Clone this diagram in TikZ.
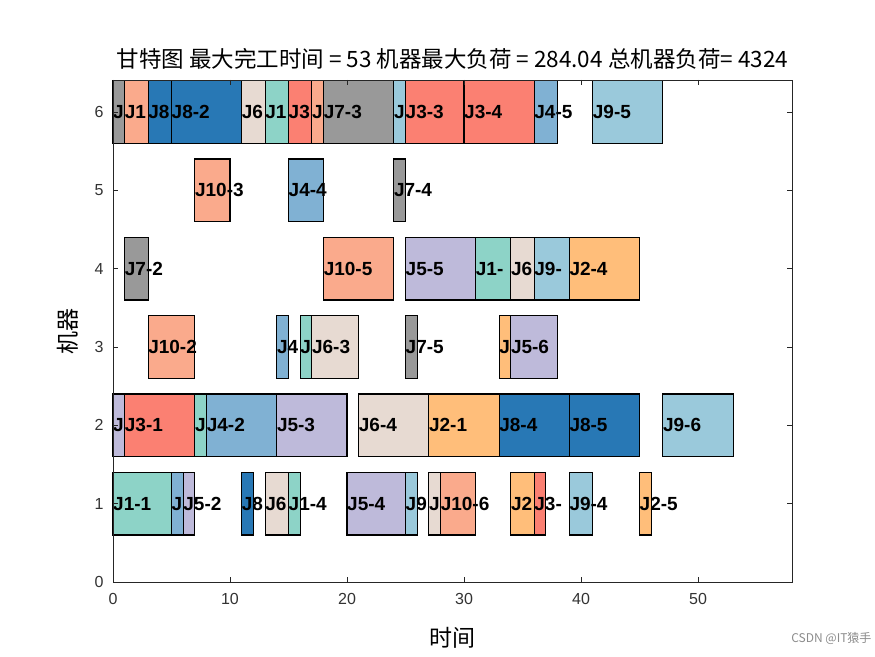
\documentclass[tikz,border=0pt]{standalone}
\usepackage{fontspec}
\setmainfont{Liberation Sans}
\newfontfamily\cjk{Noto Sans CJK SC}
\definecolor{cTe}{RGB}{141,211,199}
\definecolor{cSa}{RGB}{250,170,140}
\definecolor{cRe}{RGB}{251,128,114}
\definecolor{cDb}{RGB}{40,120,181}
\definecolor{cMb}{RGB}{128,177,211}
\definecolor{cLb}{RGB}{154,201,219}
\definecolor{cPu}{RGB}{190,186,218}
\definecolor{cBe}{RGB}{231,218,210}
\definecolor{cOr}{RGB}{255,190,122}
\definecolor{cGr}{RGB}{153,153,153}
\newcommand{\jbar}[5]{%
  \fill[#4] (#1,#3-0.4) rectangle (#2,#3+0.4);
  \draw[black,line width=1.1pt] (#1,#3-0.4) rectangle (#2,#3+0.4);
  \node[anchor=west,inner sep=0pt,font=\bfseries\fontsize{19}{21}\selectfont] at (#1,#3) {#5};}
\begin{document}
\begin{tikzpicture}[x=11.7pt,y=78.33pt]
\useasboundingbox (-113pt,-74pt) rectangle (762pt,582pt);
\fill[white] (-113pt,-74pt) rectangle (762pt,582pt);
% row 6
\jbar{0}{1}{6}{cGr}{J}
\jbar{1}{3}{6}{cSa}{J1}
\jbar{3}{5}{6}{cDb}{J8}
\jbar{5}{11}{6}{cDb}{J8-2}
\jbar{11}{13}{6}{cBe}{J6}
\jbar{13}{15}{6}{cTe}{J1}
\jbar{15}{17}{6}{cRe}{J3}
\jbar{17}{18}{6}{cSa}{J}
\jbar{18}{24}{6}{cGr}{J7-3}
\jbar{24}{25}{6}{cLb}{J}
\jbar{25}{30}{6}{cRe}{J3-3}
\jbar{30}{36}{6}{cRe}{J3-4}
\jbar{36}{38}{6}{cMb}{J4-5}
\jbar{41}{47}{6}{cLb}{J9-5}
% row 5
\jbar{7}{10}{5}{cSa}{J10-3}
\jbar{15}{18}{5}{cMb}{J4-4}
\jbar{24}{25}{5}{cGr}{J7-4}
% row 4
\jbar{1}{3}{4}{cGr}{J7-2}
\jbar{18}{24}{4}{cSa}{J10-5}
\jbar{25}{31}{4}{cPu}{J5-5}
\jbar{31}{34}{4}{cTe}{J1-}
\jbar{34}{36}{4}{cBe}{J6}
\jbar{36}{39}{4}{cLb}{J9-}
\jbar{39}{45}{4}{cOr}{J2-4}
% row 3
\jbar{3}{7}{3}{cSa}{J10-2}
\jbar{14}{15}{3}{cMb}{J4}
\jbar{16}{17}{3}{cTe}{J}
\jbar{17}{21}{3}{cBe}{J6-3}
\jbar{25}{26}{3}{cGr}{J7-5}
\jbar{33}{34}{3}{cOr}{J}
\jbar{34}{38}{3}{cPu}{J5-6}
% row 2
\jbar{0}{1}{2}{cPu}{J}
\jbar{1}{7}{2}{cRe}{J3-1}
\jbar{7}{8}{2}{cTe}{J}
\jbar{8}{14}{2}{cMb}{J4-2}
\jbar{14}{20}{2}{cPu}{J5-3}
\jbar{21}{27}{2}{cBe}{J6-4}
\jbar{27}{33}{2}{cOr}{J2-1}
\jbar{33}{39}{2}{cDb}{J8-4}
\jbar{39}{45}{2}{cDb}{J8-5}
\jbar{47}{53}{2}{cLb}{J9-6}
% row 1
\jbar{0}{5}{1}{cTe}{J1-1}
\jbar{5}{6}{1}{cMb}{J}
\jbar{6}{7}{1}{cPu}{J5-2}
\jbar{11}{12}{1}{cDb}{J8}
\jbar{13}{15}{1}{cBe}{J6}
\jbar{15}{16}{1}{cTe}{J1-4}
\jbar{20}{25}{1}{cPu}{J5-4}
\jbar{25}{26}{1}{cLb}{J9}
\jbar{27}{28}{1}{cBe}{J}
\jbar{28}{31}{1}{cSa}{J10-6}
\jbar{34}{36}{1}{cOr}{J2}
\jbar{36}{37}{1}{cRe}{J3-}
\jbar{39}{41}{1}{cLb}{J9-4}
\jbar{45}{46}{1}{cOr}{J2-5}
% axes
\draw[line width=0.6pt,color=black!85] (0,0) rectangle (58.03,6.41);
\foreach \x in {0,10,...,50}{
  \draw[line width=0.6pt,color=black!85] (\x,0) -- ++(0,5pt) (\x,6.41) -- ++(0,-5pt);
  \node[anchor=north,font=\fontsize{16}{18}\selectfont,color=black!80] at ([yshift=-8pt]\x,0) {\x};}
\foreach \y in {0,...,6}{
  \draw[line width=0.6pt,color=black!85] (0,\y) -- ++(5pt,0) (58.03,\y) -- ++(-5pt,0);
  \node[anchor=east,font=\fontsize{16}{18}\selectfont,color=black!80] at ([xshift=-6pt]0,\y) {\y};}
\node[font=\cjk\fontsize{22.5}{24}\selectfont] at ([yshift=21pt]29,6.41) {甘特图 最大完工时间 = 53 机器最大负荷 = 284.04 总机器负荷= 4324};
\node[font=\cjk\fontsize{23}{25}\selectfont] at ([yshift=-56pt]29,0) {时间};
\node[font=\cjk\fontsize{23}{25}\selectfont,rotate=90] at ([xshift=-45pt]0,3.2) {机器};
\node[anchor=east,font=\cjk\fontsize{12}{14}\selectfont,color=black!45] at (762pt,-56pt) {CSDN @IT猿手};
\end{tikzpicture}
\end{document}
